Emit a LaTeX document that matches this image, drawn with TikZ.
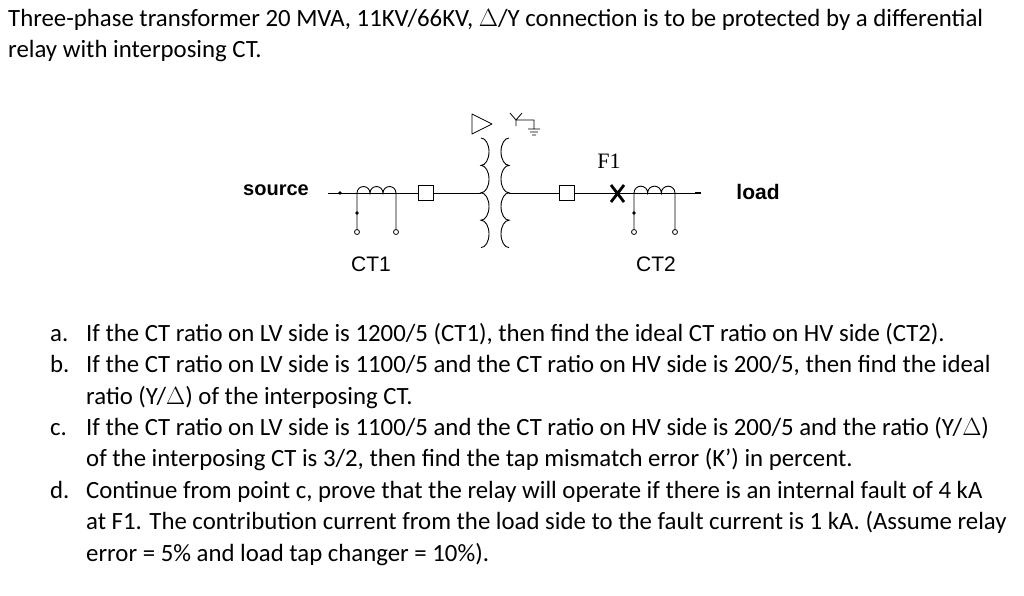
\documentclass[tikz,border=0pt]{standalone}
\usepackage{fontspec}
\setmainfont{Carlito}
\newfontfamily\arialf{Liberation Sans}
\newfontfamily\timesf{Liberation Serif}
\begin{document}
\begin{tikzpicture}[x=1pt,y=-1pt,
  txt/.style={anchor=base west,inner sep=0pt,font=\fontsize{24.8}{30}\selectfont},
  lbl/.style={inner sep=0pt,font=\arialf\fontsize{21}{24}\selectfont},
  wire/.style={line width=0.9pt},
  term/.style={circle,draw,line width=0.8pt,inner sep=0pt,minimum size=5pt},
  brk/.style={draw,line width=0.9pt,inner sep=0pt,minimum size=15pt},
  lcoil/.style={start angle=-90,end angle=90,x radius=8,y radius=13.7},
  rcoil/.style={start angle=270,end angle=90,x radius=8,y radius=13.7}]
\useasboundingbox (0,0) rectangle (1024,595);
\node[txt] (t1) at (8,26) {Three-phase transformer 20 MVA, 11KV/66KV, $\Delta$/Y connection is to be protected by a differential};
\node[txt] (t2) at (8,57) {relay with interposing CT.};
% list
\node[txt] (la) at (50,341) {a.};
\node[txt] (a1) at (86,341) {If the CT ratio on LV side is 1200/5 (CT1), then find the ideal CT ratio on HV side (CT2).};
\node[txt] (lb) at (50,372) {b.};
\node[txt] (b1) at (86,372) {If the CT ratio on LV side is 1100/5 and the CT ratio on HV side is 200/5, then find the ideal};
\node[txt] (b2) at (86,404) {ratio (Y/$\Delta$) of the interposing CT.};
\node[txt] (lc) at (50,435) {c.};
\node[txt] (c1) at (86,435) {If the CT ratio on LV side is 1100/5 and the CT ratio on HV side is 200/5 and the ratio (Y/$\Delta$)};
\node[txt] (c2) at (86,466) {of the interposing CT is 3/2, then find the tap mismatch error (K’) in percent.};
\node[txt] (ld) at (50,498) {d.};
\node[txt] (d1) at (86,498) {Continue from point c, prove that the relay will operate if there is an internal fault of 4 kA};
\node[txt] (d2) at (86,529) {at F1. The contribution current from the load side to the fault current is 1 kA. (Assume relay};
\node[txt] (d3) at (86,561) {error = 5\% and load tap changer = 10\%).};
% diagram labels
\node[lbl,font=\arialf\bfseries\fontsize{20}{24}\selectfont] (src) at (276,190) {source};
\node[lbl,font=\arialf\bfseries\fontsize{21}{24}\selectfont] (load) at (758,192) {load};
\node[lbl] (ct1) at (371,264) {CT1};
\node[lbl] (ct2) at (656,264) {CT2};
\node[inner sep=0pt,font=\timesf\fontsize{22}{24}\selectfont] (f1) at (609,161) {F1};
% breakers
\node[brk] (b1x) at (426,193) {};
\node[brk] (b2x) at (567,193) {};
% main line
\coordinate (s0) at (328,193);
\coordinate (tl) at (481,193);
\coordinate (tr) at (509,193);
\coordinate (e0) at (701,193);
\draw[wire] (s0) -- (b1x.west);
\fill (340,193) circle (1.8pt);
\draw[wire] (b1x.east) -- (tl);
\draw[wire] (tr) -- (b2x.west);
\draw[wire] (b2x.east) -- (e0);
\draw[line width=1.6pt] (e0) ++(-6,0) -- (e0);
% CT1
\draw[wire] (357,229) -- (357,193) arc[start angle=180,end angle=360,radius=6.5] arc[start angle=180,end angle=360,radius=6.5] arc[start angle=180,end angle=360,radius=6.5] -- (396,229);
\fill (357,213) circle (1.8pt);
\node[term] (c1a) at (357,232) {};
\node[term] (c1b) at (396,232) {};
% CT2
\draw[wire] (634,229) -- (634,193) arc[start angle=180,end angle=360,radius=6.83] arc[start angle=180,end angle=360,radius=6.83] arc[start angle=180,end angle=360,radius=6.83] -- (675,229);
\fill (634,213) circle (1.8pt);
\node[term] (c2a) at (634,232) {};
\node[term] (c2b) at (675,232) {};
% fault X
\draw[line width=2.8pt] (611,185) -- (624,202) (624,185) -- (611,202);
% transformer coils
\draw[wire] (481,138) arc[lcoil] arc[lcoil] arc[lcoil] arc[lcoil];
\draw[wire] (509,138) arc[rcoil] arc[rcoil] arc[rcoil] arc[rcoil];
% delta symbol
\draw[line width=0.8pt,line join=round] (472,114) -- (492,124) -- (472,134) -- cycle;
% wye with ground
\draw[line width=0.8pt] (510,113) -- (516,120) -- (522,113) (516,120) -- (516,126) (516,120) -- (534,120) -- (534,129)
  (528,129) -- (540,129) (530,132) -- (538,132) (532,135) -- (536,135);
\end{tikzpicture}
\end{document}
